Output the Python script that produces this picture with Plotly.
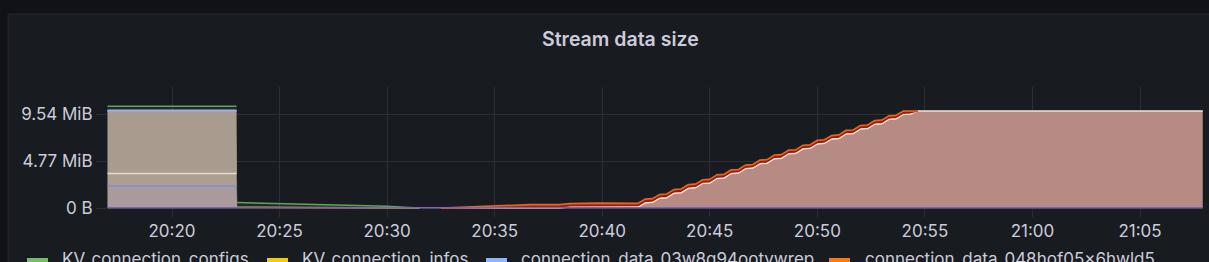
import numpy as np
import plotly.graph_objects as go

DAY = "2024-05-14 "

# ---------------- data (bytes) ----------------
y_tickvals = [0, 5000000, 10000000]
y_ticktext = ["0 B", "4.77 MiB", "9.54 MiB"]
x_ticks = ["20:20", "20:25", "20:30", "20:35", "20:40", "20:45", "20:50", "20:55", "21:00", "21:05"]

# series present at the start of the window (stacked bottom -> top)
kv_t = ["20:17:00", "20:23:00", "20:23:02", "20:25:00", "20:27:30", "20:30:00", "20:31:00", "20:31:30"]
blue_v = [2350000, 2350000, 0, 0, 0, 0, 0, 0]
beige_v = [1320000, 1320000, 0, 0, 0, 0, 0, 0]
pink_v = [6610000, 6610000, 0, 0, 0, 0, 0, 0]
lightblue_v = [120000, 120000, 0, 0, 0, 0, 0, 0]
infos_v = [0, 0, 80000, 75000, 70000, 65000, 60000, 0]
configs_v = [420000, 420000, 500000, 400000, 250000, 120000, 0, 0]

# growing streams (stacked bottom -> top)
ramp_t = ["20:32:30", "20:33:50", "20:35:20", "20:36:40", "20:38:00", "20:38:30", "20:39:50",
          "20:41:20", "20:41:40", "20:42:00", "20:42:20", "20:42:40", "20:43:00", "20:43:20", "20:43:40",
          "20:44:00", "20:44:20", "20:44:40", "20:45:00", "20:45:20", "20:45:40", "20:46:00", "20:46:20",
          "20:46:40", "20:47:00", "20:47:20", "20:47:40", "20:48:00", "20:48:20", "20:48:40", "20:49:00",
          "20:49:20", "20:49:40", "20:50:00", "20:50:20", "20:50:40", "20:51:00", "20:51:20", "20:51:40",
          "20:52:00", "20:52:20", "20:52:40", "20:53:00", "20:53:20", "20:53:40", "20:54:00", "20:54:20",
          "20:54:40", "21:07:55"]
white_v = [0, 0, 0, 0, 0, 100000, 100000,
           100000, 100000, 550000, 600000, 1050000, 1100000, 1580000, 1630000,
           2100000, 2150000, 2620000, 2660000, 3150000, 3200000, 3680000, 3720000,
           4200000, 4250000, 4720000, 4770000, 5250000, 5300000, 5780000, 5820000,
           6300000, 6350000, 6820000, 6880000, 7350000, 7400000, 7880000, 7920000,
           8400000, 8450000, 8920000, 8970000, 9450000, 9500000, 9950000, 10000000,
           10320000, 10320000]
darkred_v = [0, 55000, 100000, 130000, 150000, 160000, 200000,
             200000, 200000, 195000, 195000, 190000, 190000, 195000, 195000,
             190000, 190000, 190000, 195000, 195000, 190000, 190000, 190000,
             185000, 185000, 190000, 190000, 190000, 190000, 185000, 185000,
             190000, 190000, 190000, 185000, 185000, 190000, 190000, 190000,
             185000, 185000, 190000, 190000, 185000, 185000, 180000, 170000,
             0, 0]
orange_v = [0, 65000, 200000, 240000, 230000, 220000, 240000,
            220000, 215000, 210000, 210000, 205000, 205000, 200000, 200000,
            200000, 200000, 195000, 195000, 200000, 200000, 195000, 195000,
            200000, 200000, 195000, 195000, 190000, 190000, 195000, 195000,
            190000, 190000, 195000, 195000, 190000, 190000, 190000, 190000,
            195000, 195000, 190000, 190000, 185000, 185000, 180000, 170000,
            0, 0]

purple_t = ["20:17:00", "21:07:55"]
purple_v = [15000, 15000]

legend_names = ["KV_connection_configs", "KV_connection_infos",
                "connection_data_03w8g94ootywrep", "connection_data_048hof05x6hwld5"]
legend_colors = ["#73BF69", "#F2CC0C", "#8AB8FF", "#FF780A"]

# ---------------- layout geometry (pixels) ----------------
W, H = 1209, 262
L, R, T, B = 107, 6, 87, 52
PW = W - L - R
PH = H - T - B
PBOT = H - B


def px_x(X):
    return (X - L) / PW


def px_y(Y):
    return (PBOT - Y) / PH


def ts(lst):
    return [DAY + t for t in lst]


fig = go.Figure()

# ---------- stacked fills (library stacking) ----------
blk_series = [
    ("connection_data_blue", blue_v, "#AB9A9C", "#7A8ED8"),
    ("connection_data_beige", beige_v, "#AC9E91", "#E6DCCB"),
    ("connection_data_pink", pink_v, "#A99C8F", "#CF8FA8"),
    (legend_names[2], lightblue_v, "#8FA0C8", "#8AB8FF"),
    (legend_names[1], infos_v, "rgba(242,204,12,0.12)", "#E0BC10"),
    (legend_names[0], configs_v, "rgba(115,191,105,0.10)", "#5FA557"),
]
rmp_series = [
    ("connection_data_white", white_v, "#B58B83", "#FCE2DC"),
    ("connection_data_darkred", darkred_v, "rgba(150,20,8,0.85)", "#A3170C"),
    (legend_names[3], orange_v, "rgba(220,100,20,0.7)", "#E8681A"),
]

for name, vals, fc, lc in blk_series:
    fig.add_trace(go.Scatter(x=ts(kv_t), y=vals, name=name, mode="lines", stackgroup="blk",
                             line=dict(width=0), fillcolor=fc, showlegend=False, hoverinfo="skip"))
for name, vals, fc, lc in rmp_series:
    fig.add_trace(go.Scatter(x=ts(ramp_t), y=vals, name=name, mode="lines", stackgroup="rmp",
                             line=dict(width=0), fillcolor=fc, showlegend=False, hoverinfo="skip"))

# ---------- outlines at the stacked top of each series, only where it has data ----------
blk_cum = np.cumsum(np.array([s[1] for s in blk_series], dtype=float), axis=0)
rmp_cum = np.cumsum(np.array([s[1] for s in rmp_series], dtype=float), axis=0)

# (series index, [index ranges where the series is present])
blk_segments = [(0, [(0, 2)]), (1, [(0, 2)]), (2, [(0, 2)]), (3, [(0, 2)]),
                (4, [(2, 8)]), (5, [(0, 2), (2, 8)])]
rmp_segments = [(0, [(0, 49)]), (1, [(0, 48)]), (2, [(0, 48)])]


def add_lines(times, cum, series, segments):
    for si, ranges in segments:
        for a, b in ranges:
            fig.add_trace(go.Scatter(x=ts(times[a:b]), y=cum[si][a:b], mode="lines",
                                     line=dict(color=series[si][3], width=1.5),
                                     showlegend=False, hoverinfo="skip"))


add_lines(kv_t, blk_cum, blk_series, blk_segments)
add_lines(ramp_t, rmp_cum, rmp_series, rmp_segments)

# bottom purple series (drawn last)
fig.add_trace(go.Scatter(x=ts(purple_t), y=purple_v, mode="lines",
                         line=dict(color="#7F62B5", width=1.5),
                         showlegend=False, hoverinfo="skip"))

grid = "#2c2f35"
txt = "#ccccdc"
font = "Inter, Roboto, sans-serif"

shapes = [
    dict(type="rect", xref="paper", yref="paper", layer="below",
         x0=px_x(8), x1=px_x(1225), y0=px_y(280), y1=px_y(14),
         fillcolor="#181b1f", line=dict(color="rgba(204,204,220,0.09)", width=1)),
]
annotations = [
    dict(text="Stream data size", xref="paper", yref="paper",
         x=px_x(620), y=px_y(39), xanchor="center", yanchor="middle",
         showarrow=False, font=dict(family=font, size=19.5, color=txt, weight=600)),
]

icon_x = [27, 267, 486, 829]
text_x = [60, 300, 519, 863]
for i, nm in enumerate(legend_names):
    shapes.append(dict(type="rect", xref="paper", yref="paper", layer="above",
                       x0=px_x(icon_x[i]), x1=px_x(icon_x[i] + 21),
                       y0=px_y(264), y1=px_y(258),
                       fillcolor=legend_colors[i], line=dict(width=0)))
    annotations.append(dict(text=nm, xref="paper", yref="paper",
                            x=px_x(text_x[i]), y=px_y(259), xanchor="left", yanchor="middle",
                            showarrow=False, font=dict(family=font, size=17, color=txt)))

fig.update_layout(
    width=W, height=H, autosize=False,
    margin=dict(l=L, r=R, t=T, b=B, pad=0),
    paper_bgcolor="#111217", plot_bgcolor="rgba(0,0,0,0)",
    showlegend=False,
    shapes=shapes, annotations=annotations,
    font=dict(family=font, color=txt, size=17),
)
fig.update_xaxes(
    type="date", range=[DAY + "20:16:58.7", DAY + "21:07:55.7"],
    tickvals=ts(x_ticks), ticktext=x_ticks,
    showgrid=True, gridcolor=grid, gridwidth=1, zeroline=False, showline=False,
    ticks="outside", ticklen=6, tickcolor=grid,
    tickfont=dict(family=font, size=17, color=txt),
)
fig.update_yaxes(
    range=[-212800, 12872000],
    tickvals=y_tickvals, ticktext=y_ticktext,
    showgrid=True, gridcolor=grid, gridwidth=1, zeroline=False, showline=False,
    ticks="outside", ticklen=10, tickcolor=grid, ticklabelstandoff=0,
    tickfont=dict(family=font, size=17, color=txt),
)

fig.write_html("out.html")
